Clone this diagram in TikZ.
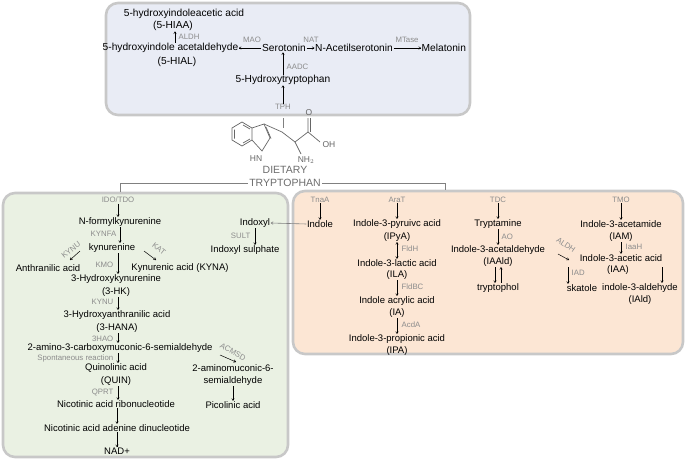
\documentclass[tikz,border=0pt]{standalone}
\usepackage{fontspec}
\setmainfont{Liberation Sans}
\usetikzlibrary{arrows.meta}
\definecolor{bordc}{HTML}{C8C8C8}
\definecolor{enzc}{HTML}{8C8C8C}
\definecolor{topf}{HTML}{E9ECF5}
\definecolor{grnf}{HTML}{EAF1E3}
\definecolor{orgf}{HTML}{FCE6D4}
\begin{document}
\begin{tikzpicture}[x=1pt,y=-1pt,
  t/.style={font=\fontsize{9.5}{10}\selectfont,inner sep=0.5pt,align=center},
  tt/.style={font=\fontsize{10.2}{11}\selectfont,inner sep=0.5pt,align=center},
  e/.style={font=\fontsize{7.8}{8}\selectfont,text=enzc,inner sep=0.5pt},
  box/.style={draw=bordc,line width=2.6pt,rounded corners=12pt},
  ar/.style={-{To[length=2.6pt,width=3pt]},line width=0.5pt},
  mol/.style={draw=gray!80!black,line width=0.7pt}]
\useasboundingbox (0,0) rectangle (685,460);
% boxes
\draw[box,fill=topf] (106,3) rectangle (470,115);
\draw[box,fill=grnf] (3,193) rectangle (288,457);
\draw[box,fill=orgf] (293,191) rectangle (683,354);
% top box
\node[tt] (hiaa) at (184,14) {5-hydroxyindoleacetic acid};
\node[tt] (hiaab) at (173,26) {(5-HIAA)};
\node[tt,anchor=west] (hial) at (102,48) {5-hydroxyindole acetaldehyde};
\node[tt] (hialb) at (177,62) {(5-HIAL)};
\node[tt] (ser) at (284,48) {Serotonin};
\node[tt] (nas) at (354,48) {N-Acetilserotonin};
\node[tt,anchor=west] (mel) at (421,48) {Melatonin};
\node[tt] (htp) at (283,80) {5-Hydroxytryptophan};
\draw[ar] (175,43) -- (hiaab.south -| 175,0);
\node[e,anchor=west] at (178,37) {ALDH};
\draw[ar] (ser.west) -- (hial.east);
\node[e] at (252,40) {MAO};
\draw[ar] (ser.east) -- (nas.west);
\node[e] at (311,40) {NAT};
\draw[ar] (nas.east) -- (mel.west);
\node[e] at (407,40) {MTase};
\draw[ar] (htp.north) -- (ser.south -| htp.north);
\node[e,anchor=west] at (286,67) {AADC};
\node[e] (tph) at (283,107) {TPH};
\draw[ar] (tph.north) -- (htp.south);
\coordinate (tl1) at (283,118);
\coordinate (tl2) at (283,128);
\draw[gray,line width=0.5pt] (tl1) -- (tl2);
% tryptophan molecule
\draw[mol] (242,122)--(232,128)--(232,140)--(242,146)--(252,140)--(252,128)--cycle;
\draw[mol] (234.5,129.5)--(234.5,138.5) (243,143)--(250,139) (243,125)--(250,129);
\draw[mol] (252,128)--(264,124)--(270,138)--(262,151)--(252,140);
\draw[mol] (266,127)--(271,138.5);
\draw[mol] (264,124)--(282,132)--(295,142)--(308,132)--(308,118);
\draw[mol] (310.5,132)--(310.5,118);
\draw[mol] (308,132)--(320,142);
\draw[mol] (295,142)--(301,154);
\node[font=\fontsize{8.5}{8}\selectfont,text=gray!80!black,inner sep=0.5pt] (oo) at (309,113) {O};
\node[font=\fontsize{8.5}{8}\selectfont,text=gray!80!black,inner sep=0.5pt] (oh) at (329,145) {OH};
\node[font=\fontsize{8.5}{8}\selectfont,text=gray!80!black,inner sep=0.5pt] (nh) at (306,160) {NH$_2$};
\node[font=\fontsize{8.5}{8}\selectfont,text=gray!80!black,inner sep=0.5pt] (hn) at (256,159) {HN};
\node[font=\fontsize{10.5}{10}\selectfont,text=gray!85!black,inner sep=0.5pt] (diet) at (285,170) {DIETARY};
\node[font=\fontsize{10.5}{10}\selectfont,text=gray!85!black,inner sep=1.5pt] (tryp) at (285,183) {TRYPTOPHAN};
\coordinate (bl) at (120,183); \coordinate (bld) at (120,192);
\coordinate (br) at (445,183); \coordinate (brd) at (445,190);
\draw[gray,line width=0.5pt] (bld) -- (bl) -- (tryp.west) (tryp.east) -- (br) -- (brd);
% green box
\node[e] (ido) at (118,200) {IDO/TDO};
\node[t] (nfk) at (120,222) {N-formylkynurenine};
\node[t] (kyn) at (112,248) {kynurenine};
\node[t] (anth) at (48,268) {Anthranilic acid};
\node[t] (kyna) at (180,268) {Kynurenic acid (KYNA)};
\node[t] (hk) at (116,279) {3-Hydroxykynurenine};
\node[t] (hkb) at (116,292) {(3-HK)};
\node[t] (hana) at (117,315) {3-Hydroxyanthranilic acid};
\node[t] (hanab) at (117,328) {(3-HANA)};
\node[t] (acms) at (120,348) {2-amino-3-carboxymuconic-6-semialdehyde};
\node[t] (quin) at (116,368) {Quinolinic acid};
\node[t] (quinb) at (116,381) {(QUIN)};
\node[t] (nar) at (116,404) {Nicotinic acid ribonucleotide};
\node[t] (naad) at (117,428) {Nicotinic acid adenine dinucleotide};
\node[t] (nad) at (117,451) {NAD+};
\node[t] (amu) at (233,368) {2-aminomuconic-6-};
\node[t] (amub) at (233,381) {semialdehyde};
\node[t] (pic) at (233,405) {Picolinic acid};
\node[t] (indx) at (255,223) {Indoxyl};
\node[t] (indxs) at (245,250) {Indoxyl sulphate};
\draw[ar] (ido.south -| 118,0) -- (nfk.north -| 118,0);
\draw[ar] (nfk.south -| 120,0) -- (kyn.north -| 120,0);
\node[e,anchor=east] at (117,234) {KYNFA};
\draw[ar] (80,251) -- (70,260);
\node[e,rotate=38] at (71,250) {KYNU};
\draw[ar] (144,251) -- (156,260);
\node[e,rotate=-38] at (159,249) {KAT};
\draw[ar] (kyn.south -| 118,0) -- (hk.north -| 118,0);
\node[e,anchor=east] at (114,265) {KMO};
\draw[ar] (hkb.south -| 118,0) -- (hana.north -| 118,0);
\node[e,anchor=east] at (114,302) {KYNU};
\draw[ar] (hanab.south -| 118,0) -- (acms.north -| 118,0);
\node[e,anchor=east] at (114,339) {3HAO};
\draw[ar] (acms.south -| 118,0) -- (quin.north -| 118,0);
\node[e,anchor=east] at (114,358) {Spontaneous reaction};
\draw[ar] (220,355) -- (236,362);
\node[e,rotate=-30] at (233,352) {ACMSD};
\draw[ar] (quinb.south -| 118,0) -- (nar.north -| 118,0);
\node[e,anchor=east] at (114,393) {QPRT};
\draw[ar] (nar.south -| 117,0) -- (naad.north -| 117,0);
\draw[ar] (naad.south -| 117,0) -- (nad.north -| 117,0);
\draw[ar] (amub.south) -- (pic.north);
\draw[ar] (indx.south -| 255,0) -- (indxs.north -| 255,0);
\node[e,anchor=east] at (251,236) {SULT};
% orange box
\node[e] (tnaa) at (320,200) {TnaA};
\node[t] (indole) at (320,224) {Indole};
\draw[ar] (tnaa.south) -- (indole.north);
\draw[ar,line width=0.6pt,gray] (indole.west) -- (indx.east);
\node[e] (arat) at (397,200) {AraT};
\node[t] (ipya) at (397,224) {Indole-3-pyruivc acid};
\node[t] (ipyab) at (397,237) {(IPyA)};
\node[t] (ila) at (397,263) {Indole-3-lactic acid};
\node[t] (ilab) at (397,275) {(ILA)};
\node[t] (ia) at (397,301) {Indole acrylic acid};
\node[t] (iab) at (397,313) {(IA)};
\node[t] (ipa) at (397,339) {Indole-3-propionic acid};
\node[t] (ipab) at (397,351) {(IPA)};
\draw[ar] (arat.south) -- (ipya.north);
\draw[{To[length=2.6pt,width=3pt]}-{To[length=2.6pt,width=3pt]},line width=0.5pt] (ipyab.south) -- (ila.north);
\node[e,anchor=west] at (401,249) {FldH};
\draw[ar] (ilab.south) -- (ia.north);
\node[e,anchor=west] at (401,287) {FldBC};
\draw[ar] (iab.south) -- (ipa.north);
\node[e,anchor=west] at (401,325) {AcdA};
\node[e] (tdc) at (498,200) {TDC};
\node[t] (trypt) at (498,224) {Tryptamine};
\node[t] (iaald) at (498,250) {Indole-3-acetaldehyde};
\node[t] (iaaldb) at (498,262) {(IAAld)};
\node[t] (tol) at (498,288) {tryptophol};
\draw[ar] (tdc.south) -- (trypt.north);
\draw[ar] (trypt.south) -- (iaald.north);
\node[e,anchor=west] at (501,237) {AO};
\draw[ar] (iaaldb.south -| 495,0) -- (tol.north -| 495,0);
\draw[ar] (tol.north -| 501,0) -- (iaaldb.south -| 501,0);
\draw[ar] (558,254) -- (569,260);
\node[e,rotate=-35] at (566,245) {ALDH};
\node[e] (tmo) at (621,200) {TMO};
\node[t] (iam) at (621,224) {Indole-3-acetamide};
\node[t] (iamb) at (621,237) {(IAM)};
\node[t] (iaa) at (621,258) {Indole-3-acetic acid};
\node[t] (iaab) at (618,270) {(IAA)};
\node[t] (ska) at (582,288) {skatole};
\node[t] (iald) at (640,288) {indole-3-aldehyde};
\node[t] (ialdb) at (640,300) {(IAld)};
\draw[ar] (tmo.south) -- (iam.north);
\draw[ar] (iamb.south) -- (iaa.north);
\node[e,anchor=west] at (625,247) {IaaH};
\draw[ar] (568,267) -- (ska.north -| 568,0);
\node[e,anchor=west] at (571,273) {IAD};
\draw[ar] (662,267) -- (iald.north -| 662,0);
\end{tikzpicture}
\end{document}
